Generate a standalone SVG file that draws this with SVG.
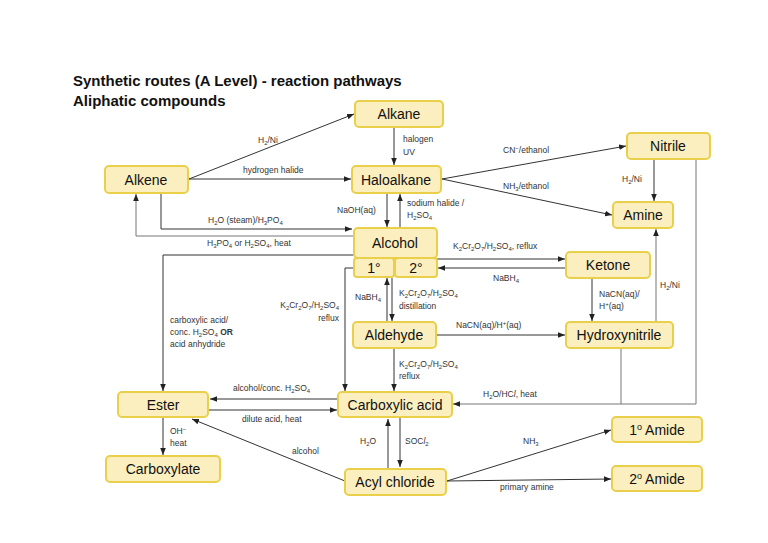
<svg xmlns="http://www.w3.org/2000/svg" width="768" height="543" viewBox="0 0 768 543">
<defs>
<marker id="a" viewBox="0 0 10 10" refX="10" refY="5" markerWidth="7" markerHeight="7" orient="auto" markerUnits="userSpaceOnUse"><path d="M0,1 L10,5 L0,9 z" fill="#222"/></marker>
<style>
.n rect{fill:#fbefc0;stroke:#ead04a;stroke-width:2}
.n text{font-family:"Liberation Sans",Arial,sans-serif;font-size:14px;fill:#111;text-anchor:middle}
.c path{fill:none;stroke:#333;stroke-width:1}
.c path.g{stroke:#777}
.l{font-family:"Liberation Sans",Arial,sans-serif;font-size:8.5px;fill:#333}
.t{font-family:"Liberation Sans",Arial,sans-serif;font-size:15px;font-weight:bold;fill:#111}
</style>
</defs>
<rect width="768" height="543" fill="#fff"/>
<text class="t" x="73" y="86">Synthetic routes (A Level) - reaction pathways</text>
<text class="t" x="73" y="106">Aliphatic compounds</text>

<g class="c">
<path d="M189,179 L354,114" marker-end="url(#a)"/>
<path d="M189,179 L351,179" marker-end="url(#a)"/>
<path d="M394,127 L394,165" marker-end="url(#a)"/>
<path d="M387,193 L387,227" marker-end="url(#a)"/>
<path d="M400,228 L400,194" marker-end="url(#a)"/>
<path d="M161,193 L161,229 L352,229" marker-end="url(#a)"/>
<path class="g" d="M354,236 L136,236 L136,194" marker-end="url(#a)"/>
<path d="M442,179 L626,146" marker-end="url(#a)"/>
<path d="M442,179 L612,215" marker-end="url(#a)"/>
<path d="M654,159 L654,201" marker-end="url(#a)"/>
<path class="g" d="M656,322 L656,229" marker-end="url(#a)"/>
<path class="g" d="M696,159 L696,404 L453,404" marker-end="url(#a)"/>
<path class="g" d="M621,348 L621,404"/>
<path d="M437,259 L565,259" marker-end="url(#a)"/>
<path d="M566,268 L438,268" marker-end="url(#a)"/>
<path d="M592,278 L592,321" marker-end="url(#a)"/>
<path d="M436,335 L565,335" marker-end="url(#a)"/>
<path d="M387,322 L387,278" marker-end="url(#a)"/>
<path d="M392,278 L392,321" marker-end="url(#a)"/>
<path d="M354,268 L345,268 L345,391" marker-end="url(#a)"/>
<path d="M354,255 L163,255 L163,391" marker-end="url(#a)"/>
<path d="M394,348 L394,391" marker-end="url(#a)"/>
<path d="M337,399 L210,399" marker-end="url(#a)"/>
<path d="M209,410 L337,410" marker-end="url(#a)"/>
<path d="M163,417 L163,455" marker-end="url(#a)"/>
<path d="M345,481 L192,419" marker-end="url(#a)"/>
<path d="M388,468 L388,419" marker-end="url(#a)"/>
<path d="M400,418 L400,467" marker-end="url(#a)"/>
<path d="M447,481 L611,430" marker-end="url(#a)"/>
<path d="M447,481 L611,479" marker-end="url(#a)"/>
</g>

<g id="labels">
<text class="l" x="258" y="143">H<tspan font-size="6" dy="2">2</tspan><tspan dy="-2">/Ni</tspan></text>
<text class="l" x="243" y="173">hydrogen halide</text>
<text class="l" x="403" y="142">halogen</text>
<text class="l" x="403" y="155">UV</text>
<text class="l" x="337" y="213">NaOH(aq)</text>
<text class="l" x="407" y="206">sodium halide /</text>
<text class="l" x="407" y="218">H<tspan font-size="6" dy="2">2</tspan><tspan dy="-2">SO</tspan><tspan font-size="6" dy="2">4</tspan></text>
<text class="l" x="208" y="223">H<tspan font-size="6" dy="2">2</tspan><tspan dy="-2">O (steam)/H</tspan><tspan font-size="6" dy="2">3</tspan><tspan dy="-2">PO</tspan><tspan font-size="6" dy="2">4</tspan></text>
<text class="l" x="207" y="246">H<tspan font-size="6" dy="2">3</tspan><tspan dy="-2">PO</tspan><tspan font-size="6" dy="2">4</tspan><tspan dy="-2"> or  H</tspan><tspan font-size="6" dy="2">2</tspan><tspan dy="-2">SO</tspan><tspan font-size="6" dy="2">4</tspan><tspan dy="-2">, heat</tspan></text>
<text class="l" x="503" y="153">CN<tspan font-size="6" dy="-3">−</tspan><tspan dy="3">/ethanol</tspan></text>
<text class="l" x="503" y="189">NH<tspan font-size="6" dy="2">3</tspan><tspan dy="-2">/ethanol</tspan></text>
<text class="l" x="622" y="182">H<tspan font-size="6" dy="2">2</tspan><tspan dy="-2">/Ni</tspan></text>
<text class="l" x="660" y="288">H<tspan font-size="6" dy="2">2</tspan><tspan dy="-2">/Ni</tspan></text>
<text class="l" x="453" y="249">K<tspan font-size="6" dy="2">2</tspan><tspan dy="-2">Cr</tspan><tspan font-size="6" dy="2">2</tspan><tspan dy="-2">O</tspan><tspan font-size="6" dy="2">7</tspan><tspan dy="-2">/H</tspan><tspan font-size="6" dy="2">2</tspan><tspan dy="-2">SO</tspan><tspan font-size="6" dy="2">4</tspan><tspan dy="-2">, reflux</tspan></text>
<text class="l" x="493" y="281">NaBH<tspan font-size="6" dy="2">4</tspan></text>
<text class="l" x="599" y="297">NaCN(aq)/</text>
<text class="l" x="599" y="309">H<tspan font-size="6" dy="-3">+</tspan><tspan dy="3">(aq)</tspan></text>
<text class="l" x="456" y="328">NaCN(aq)/H<tspan font-size="6" dy="-3">+</tspan><tspan dy="3">(aq)</tspan></text>
<text class="l" x="355" y="300">NaBH<tspan font-size="6" dy="2">4</tspan></text>
<text class="l" x="399" y="296">K<tspan font-size="6" dy="2">2</tspan><tspan dy="-2">Cr</tspan><tspan font-size="6" dy="2">2</tspan><tspan dy="-2">O</tspan><tspan font-size="6" dy="2">7</tspan><tspan dy="-2">/H</tspan><tspan font-size="6" dy="2">2</tspan><tspan dy="-2">SO</tspan><tspan font-size="6" dy="2">4</tspan></text>
<text class="l" x="399" y="309">distillation</text>
<text class="l" x="339" y="308" text-anchor="end">K<tspan font-size="6" dy="2">2</tspan><tspan dy="-2">Cr</tspan><tspan font-size="6" dy="2">2</tspan><tspan dy="-2">O</tspan><tspan font-size="6" dy="2">7</tspan><tspan dy="-2">/H</tspan><tspan font-size="6" dy="2">2</tspan><tspan dy="-2">SO</tspan><tspan font-size="6" dy="2">4</tspan></text>
<text class="l" x="339" y="321" text-anchor="end">reflux</text>
<text class="l" x="170" y="323">carboxylic acid/</text>
<text class="l" x="170" y="335">conc. H<tspan font-size="6" dy="2">2</tspan><tspan dy="-2">SO</tspan><tspan font-size="6" dy="2">4</tspan><tspan dy="-2" font-weight="bold"> OR</tspan></text>
<text class="l" x="170" y="347">acid anhydride</text>
<text class="l" x="399" y="367">K<tspan font-size="6" dy="2">2</tspan><tspan dy="-2">Cr</tspan><tspan font-size="6" dy="2">2</tspan><tspan dy="-2">O</tspan><tspan font-size="6" dy="2">7</tspan><tspan dy="-2">/H</tspan><tspan font-size="6" dy="2">2</tspan><tspan dy="-2">SO</tspan><tspan font-size="6" dy="2">4</tspan></text>
<text class="l" x="399" y="379">reflux</text>
<text class="l" x="483" y="397">H<tspan font-size="6" dy="2">2</tspan><tspan dy="-2">O/HC</tspan><tspan font-style="italic">l</tspan>, heat</text>
<text class="l" x="233" y="391">alcohol/conc. H<tspan font-size="6" dy="2">2</tspan><tspan dy="-2">SO</tspan><tspan font-size="6" dy="2">4</tspan></text>
<text class="l" x="242" y="422">dilute acid, heat</text>
<text class="l" x="170" y="434">OH<tspan font-size="6" dy="-3">−</tspan></text>
<text class="l" x="170" y="446">heat</text>
<text class="l" x="292" y="454">alcohol</text>
<text class="l" x="360" y="444">H<tspan font-size="6" dy="2">2</tspan><tspan dy="-2">O</tspan></text>
<text class="l" x="405" y="444">SOC<tspan font-style="italic">l</tspan><tspan font-size="6" dy="2">2</tspan></text>
<text class="l" x="523" y="444">NH<tspan font-size="6" dy="2">3</tspan></text>
<text class="l" x="500" y="490">primary amine</text>
</g>

<g id="alkane" class="n"><rect x="355" y="101" width="88" height="26" rx="4"/><text x="399" y="119">Alkane</text></g>
<g id="alkene" class="n"><rect x="105" y="166" width="83" height="27" rx="4"/><text x="146" y="185">Alkene</text></g>
<g id="haloalkane" class="n"><rect x="352" y="166" width="89" height="27" rx="4"/><text x="396" y="185">Haloalkane</text></g>
<g id="nitrile" class="n"><rect x="627" y="133" width="83" height="26" rx="4"/><text x="668" y="151">Nitrile</text></g>
<g id="amine" class="n"><rect x="613" y="202" width="60" height="26" rx="4"/><text x="643" y="220">Amine</text></g>
<g id="alcohol" class="n"><rect x="354" y="228" width="83" height="30" rx="4"/><text x="395" y="248">Alcohol</text>
<rect x="354" y="258" width="40" height="19" rx="3"/><text x="374" y="273">1°</text>
<rect x="395" y="258" width="42" height="19" rx="3"/><text x="416" y="273">2°</text></g>
<g id="ketone" class="n"><rect x="566" y="252" width="84" height="26" rx="4"/><text x="608" y="270">Ketone</text></g>
<g id="aldehyde" class="n"><rect x="353" y="322" width="83" height="26" rx="4"/><text x="394" y="340">Aldehyde</text></g>
<g id="hydroxynitrile" class="n"><rect x="566" y="322" width="107" height="26" rx="4"/><text x="619" y="340">Hydroxynitrile</text></g>
<g id="ester" class="n"><rect x="118" y="392" width="90" height="25" rx="4"/><text x="163" y="410">Ester</text></g>
<g id="carboxylic" class="n"><rect x="338" y="392" width="114" height="25" rx="4"/><text x="395" y="410">Carboxylic acid</text></g>
<g id="carboxylate" class="n"><rect x="106" y="456" width="114" height="26" rx="4"/><text x="163" y="474">Carboxylate</text></g>
<g id="acyl" class="n"><rect x="345" y="469" width="101" height="26" rx="4"/><text x="395" y="487">Acyl chloride</text></g>
<g id="amide1" class="n"><rect x="612" y="417" width="90" height="25" rx="4"/><text x="657" y="435">1<tspan font-size="9" dy="-5">o</tspan><tspan dy="5"> Amide</tspan></text></g>
<g id="amide2" class="n"><rect x="612" y="466" width="90" height="25" rx="4"/><text x="657" y="484">2<tspan font-size="9" dy="-5">o</tspan><tspan dy="5"> Amide</tspan></text></g>
</svg>
